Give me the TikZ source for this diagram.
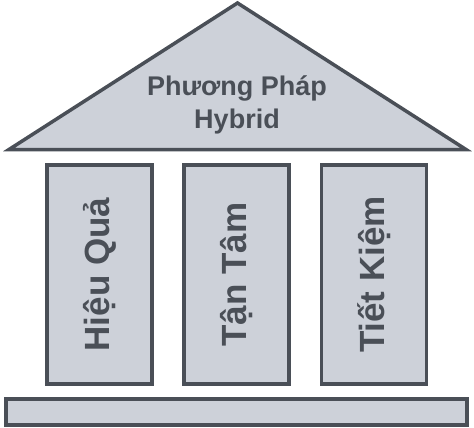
\documentclass[tikz,border=0pt]{standalone}
\usepackage{fontspec}
\setmainfont{Liberation Sans}
\definecolor{hgray}{HTML}{CDD1D9}
\definecolor{hdark}{HTML}{4A4F57}
\tikzstyle{pillar} = [rectangle, draw=hdark, fill=hgray, line width=3.5pt,
    rotate=90, minimum width=219pt, minimum height=105pt, inner sep=0pt,
    text=hdark, font=\bfseries\fontsize{35}{40}\selectfont]
\tikzstyle{slab} = [rectangle, draw=hdark, fill=hgray, line width=3.5pt,
    minimum width=461pt, minimum height=26pt, inner sep=0pt]

\begin{document}
\begin{tikzpicture}[x=1pt,y=-1pt]
  \useasboundingbox (0,0) rectangle (474,428);
  \coordinate (top)   at (237.5,3);
  \coordinate (left)  at (9,149.5);
  \coordinate (right) at (466,149.5);
  \filldraw[draw=hdark, fill=hgray, line width=3.5pt] (left) -- (top) -- (right) -- cycle;
  \node[text=hdark, align=center, font=\bfseries\fontsize{27}{33}\selectfont]
    (title) at (237,105) {Phương Pháp\\Hybrid};

  \node[pillar] (hq) at (99.5,274.5) {Hiệu Quả};
  \node[pillar] (tt) at (236.5,274.5) {Tận Tâm};
  \node[pillar] (tk) at (374,274.5) {Tiết Kiệm};

  \node[slab] (base) at (236.5,412) {};
\end{tikzpicture}
\end{document}
